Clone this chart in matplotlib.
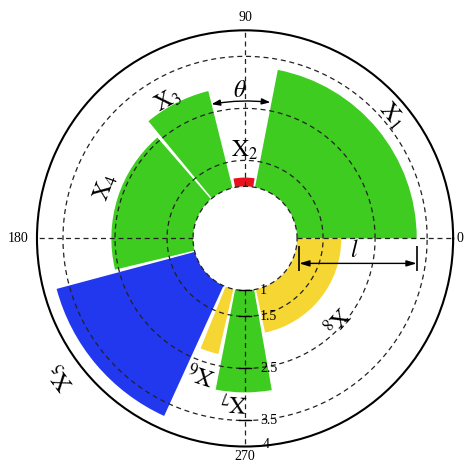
import numpy as np
import matplotlib.pyplot as plt

plt.rcParams['font.family'] = ['Liberation Serif', 'DejaVu Serif']
plt.rcParams['mathtext.fontset'] = 'stix'

# sectors (degrees, counter-clockwise from the right)
names = ['X1', 'X2', 'X3', 'X4', 'X5', 'X6', 'X7', 'X8']
start_deg = [0, 81, 104, 131, 195, 248, 259, 282]
end_deg = [79, 101, 129.5, 193.5, 245.5, 257, 280, 360]
outer_r = [3.3, 1.17, 2.92, 2.57, 3.75, 2.28, 2.96, 1.85]
colors = ['#3dcc1f', '#e8101e', '#3dcc1f', '#3dcc1f', '#2238ee',
          '#f6d632', '#3dcc1f', '#f6d632']

# sector labels: angle, radius
lab_deg = [40, 90, 119, 160, 217, 252, 266, 318]
lab_r = [3.68, 1.7, 3.04, 2.86, 4.42, 2.7, 3.12, 2.31]

grid_r = [1, 1.5, 2.5, 3.5]
tick_labels = ['1', '1.5', '2.5', '3.5']
angle_labels = ['0', '90', '180', '270']
angle_label_r = [4.13, 4.24, 4.37, 4.2]

inner = 1.0
rmax = 4.0

fig = plt.figure(figsize=(4.74, 4.74), dpi=100)
rect = [0.078, 0.058, 0.878, 0.878]
ax = fig.add_axes(rect, projection='polar')

th0 = np.deg2rad(start_deg)
w = np.deg2rad(np.array(end_deg) - np.array(start_deg))
ax.bar(th0, np.array(outer_r) - inner, width=w, bottom=inner, align='edge',
       color=colors, edgecolor='none', zorder=1)

t = np.linspace(0, 2 * np.pi, 400)
for r in grid_r:
    ax.plot(t, np.full_like(t, r), color='#222222', lw=0.9,
            linestyle=(0, (4, 3)), zorder=2)
for a in [0, 90, 180, 270]:
    ax.plot([np.deg2rad(a)] * 2, [inner, rmax], color='#222222', lw=0.9,
            linestyle=(0, (4, 3)), zorder=2)

ax.set_ylim(0, rmax)
ax.set_xticks([])
ax.set_yticks([])
ax.grid(False)
ax.spines['polar'].set_linewidth(1.5)

for i, n in enumerate(names):
    a = lab_deg[i]
    ax.text(np.deg2rad(a), lab_r[i], r'$\mathrm{X}_{%s}$' % n[1:], fontsize=17,
            rotation=a - 90, rotation_mode='anchor', ha='center', va='center',
            clip_on=False, zorder=4)

for i, a in enumerate([0, 90, 180, 270]):
    ax.text(np.deg2rad(a), angle_label_r[i], angle_labels[i], fontsize=10,
            ha='center', va='center', clip_on=False)

for i, r in enumerate(grid_r):
    ax.annotate(tick_labels[i], xy=(1.5 * np.pi, r), xytext=(15, 0),
                textcoords='offset pixels', ha='left', va='center', fontsize=10)
ax.annotate('4', xy=(1.5 * np.pi, rmax), xytext=(18, 2),
            textcoords='offset pixels', ha='left', va='center', fontsize=10)

# theta arrow
ax.annotate('', xy=(np.deg2rad(79.5), 2.66), xytext=(np.deg2rad(104), 2.66),
            arrowprops=dict(arrowstyle='<|-|>,head_length=0.5,head_width=0.18',
                            color='black', lw=1,
                            connectionstyle='arc3,rad=-0.07',
                            shrinkA=0, shrinkB=0))
ax.text(np.deg2rad(92), 2.82, r'$\theta$', fontsize=17, ha='center', va='center')

# cartesian overlay for the length marker and axis ticks
ov = fig.add_axes(rect, frameon=False)
ov.set_xlim(-rmax, rmax)
ov.set_ylim(-rmax, rmax)
ov.axis('off')
for r in grid_r:
    ov.plot([-0.12, 0.12], [-r, -r], color='black', lw=1)
ov.vlines([1.04, 3.3], -0.62, -0.14, color='black', lw=1.2)
ov.annotate('', xy=(3.3, -0.48), xytext=(1.04, -0.48),
            arrowprops=dict(arrowstyle='<|-|>,head_length=0.6,head_width=0.18',
                            color='black', lw=1, shrinkA=0, shrinkB=0))
ov.text(2.1, -0.25, r'$l$', fontsize=17, ha='center', va='center')

fig.savefig('out.png', dpi=100)
